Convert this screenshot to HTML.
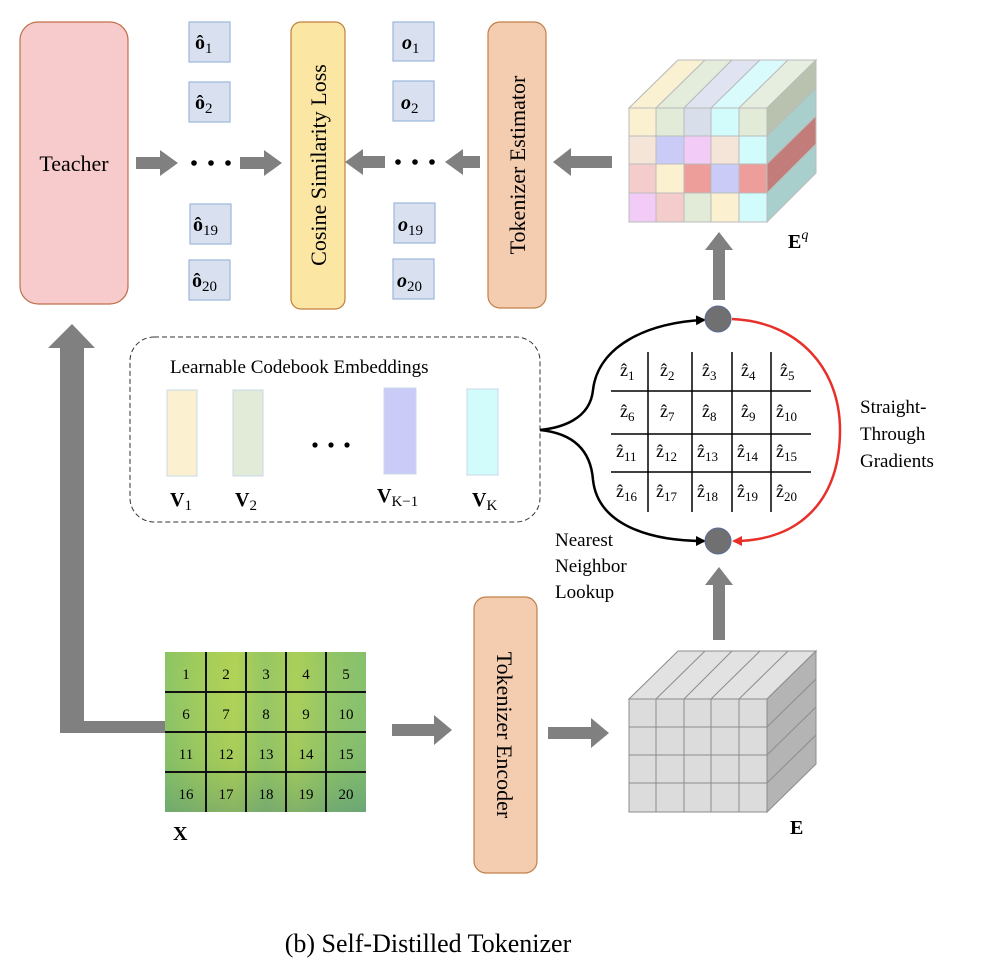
<!DOCTYPE html>
<html><head><meta charset="utf-8"><style>
html,body{margin:0;padding:0;background:#fff;}
svg{display:block;font-family:"Liberation Serif",serif;}
</style></head><body>
<svg width="982" height="980" viewBox="0 0 982 980" xmlns="http://www.w3.org/2000/svg">
<defs>
<marker id="ab" markerWidth="10" markerHeight="10" refX="8" refY="5" orient="auto" markerUnits="userSpaceOnUse"><path d="M0,0 L10,5 L0,10 z" fill="#000"/></marker>
<marker id="ar" markerWidth="10" markerHeight="10" refX="8" refY="5" orient="auto" markerUnits="userSpaceOnUse"><path d="M0,0 L10,5 L0,10 z" fill="#e8302a"/></marker>
<linearGradient id="spec" x1="0" y1="0" x2="1" y2="0">
<stop offset="0" stop-color="#8cc464"/><stop offset="0.2" stop-color="#a4cd58"/><stop offset="0.35" stop-color="#b0d254"/><stop offset="0.5" stop-color="#96c662"/><stop offset="0.65" stop-color="#aacf58"/><stop offset="0.85" stop-color="#90c466"/><stop offset="1" stop-color="#86c06c"/>
</linearGradient>
<linearGradient id="specv" x1="0" y1="0" x2="0" y2="1">
<stop offset="0" stop-color="#fff" stop-opacity="0"/><stop offset="0.7" stop-color="#2a7a8a" stop-opacity="0.08"/><stop offset="1" stop-color="#2a6a8a" stop-opacity="0.3"/>
</linearGradient>
</defs>

<!-- Teacher -->
<rect x="20" y="22" width="108" height="282" rx="18" fill="#f7cbcb" stroke="#c0714a" stroke-width="1.2"/>
<text x="74" y="171" font-size="22" text-anchor="middle">Teacher</text>

<!-- o-hat boxes -->
<g fill="#d9e1f0" stroke="#9bb8dc" stroke-width="1.2">
<rect x="189" y="22" width="41" height="40"/><rect x="189" y="82" width="41" height="40"/>
<rect x="190" y="204" width="41" height="40"/><rect x="189" y="260" width="41" height="40"/>
</g>
<g font-size="20" font-weight="bold">
<text x="195" y="49">ô<tspan font-weight="normal" font-size="15" dy="4">1</tspan></text>
<text x="195" y="109">ô<tspan font-weight="normal" font-size="15" dy="4">2</tspan></text>
<text x="193" y="231">ô<tspan font-weight="normal" font-size="15" dy="4">19</tspan></text>
<text x="192" y="287">ô<tspan font-weight="normal" font-size="15" dy="4">20</tspan></text>
</g>
<g fill="#000"><circle cx="194" cy="163" r="2.8"/><circle cx="211" cy="163" r="2.8"/><circle cx="228" cy="163" r="2.8"/></g>

<!-- Cosine box -->
<rect x="291" y="22" width="54" height="287" rx="10" fill="#fce6a4" stroke="#c0803a" stroke-width="1.2"/>
<text transform="translate(326,165) rotate(-90)" font-size="22" text-anchor="middle">Cosine Similarity Loss</text>

<!-- o boxes -->
<g fill="#d9e1f0" stroke="#9bb8dc" stroke-width="1.2">
<rect x="393" y="22" width="41" height="39"/><rect x="393" y="81" width="41" height="40"/>
<rect x="394" y="203" width="41" height="40"/><rect x="393" y="259" width="41" height="40"/>
</g>
<g font-size="20" font-weight="bold" font-style="italic">
<text x="402" y="49">o<tspan font-weight="normal" font-style="normal" font-size="15" dy="4">1</tspan></text>
<text x="401" y="109">o<tspan font-weight="normal" font-style="normal" font-size="15" dy="4">2</tspan></text>
<text x="398" y="231">o<tspan font-weight="normal" font-style="normal" font-size="15" dy="4">19</tspan></text>
<text x="397" y="287">o<tspan font-weight="normal" font-style="normal" font-size="15" dy="4">20</tspan></text>
</g>
<g fill="#000"><circle cx="398" cy="162" r="2.8"/><circle cx="415" cy="162" r="2.8"/><circle cx="432" cy="162" r="2.8"/></g>

<!-- Tokenizer Estimator -->
<rect x="488" y="22" width="58" height="286" rx="12" fill="#f4cdb0" stroke="#c0804a" stroke-width="1.2"/>
<text transform="translate(525,165) rotate(-90)" font-size="22" text-anchor="middle">Tokenizer Estimator</text>

<!-- gray arrows -->
<g fill="#808080">
<path d="M136,157 h24 v-7 l18,13 l-18,13 v-7 h-24 z"/>
<path d="M240,157 h24 v-7 l18,13 l-18,13 v-7 h-24 z"/>
<path d="M385,156 h-22 v-7 l-18,13 l18,13 v-7 h22 z"/>
<path d="M480,156 h-17 v-7 l-18,13 l18,13 v-7 h17 z"/>
<path d="M612,156 h-41 v-8 l-18,14 l18,14 v-8 h41 z"/>
<path d="M713,300 v-50 h-8 l14,-18 l14,18 h-8 v50 z"/>
<path d="M713,640 v-55 h-8 l14,-18 l14,18 h-8 v55 z"/>
<path d="M135,721 H60 V348 H48 L72,324 L95,348 H84 V721 z"/>
<rect x="60" y="721" width="105" height="12"/>
<path d="M392,724 h42 v-9 l18,15 l-18,15 v-9 h-42 z"/>
<path d="M548,727 h43 v-9 l18,15 l-18,15 v-9 h-43 z"/>
</g>

<!-- top cube -->
<g stroke="#bbbbbb" stroke-width="1">
<polygon points="629,108 678,60 816,60 767,108" fill="#e8ecdc"/>
<polygon points="629,108 678,60 705,60 656,108" fill="#faf1d2"/>
<polygon points="656,108 705,60 732,60 684,108" fill="#e4ecdc"/>
<polygon points="684,108 732,60 760,60 711,108" fill="#e0e4f2"/>
<polygon points="711,108 760,60 788,60 739,108" fill="#dafbfb"/>
<polygon points="739,108 788,60 816,60 767,108" fill="#e6eedf"/>
<polygon points="767,108 816,60 816,88 767,136" fill="#b8c2ae"/>
<polygon points="767,136 816,88 816,116 767,164" fill="#a9cfcc"/>
<polygon points="767,164 816,116 816,144 767,193" fill="#c27c7a"/>
<polygon points="767,193 816,144 816,173 767,222" fill="#a9cfcc"/>
<rect x="629" y="108" width="27" height="28" fill="#fbf1d0"/><rect x="656" y="108" width="28" height="28" fill="#e2ebd8"/><rect x="684" y="108" width="27" height="28" fill="#d9deeb"/><rect x="711" y="108" width="28" height="28" fill="#d2fbfb"/><rect x="739" y="108" width="28" height="28" fill="#e2ebd8"/>
<rect x="629" y="136" width="27" height="28" fill="#f5e4d8"/><rect x="656" y="136" width="28" height="28" fill="#caccf7"/><rect x="684" y="136" width="27" height="28" fill="#f2ccf7"/><rect x="711" y="136" width="28" height="28" fill="#f5e4d8"/><rect x="739" y="136" width="28" height="28" fill="#d2fbfb"/>
<rect x="629" y="164" width="27" height="29" fill="#f5cccc"/><rect x="656" y="164" width="28" height="29" fill="#fbf1d0"/><rect x="684" y="164" width="27" height="29" fill="#ee9e9a"/><rect x="711" y="164" width="28" height="29" fill="#caccf7"/><rect x="739" y="164" width="28" height="29" fill="#ee9e9a"/>
<rect x="629" y="193" width="27" height="29" fill="#f2ccf7"/><rect x="656" y="193" width="28" height="29" fill="#f5cccc"/><rect x="684" y="193" width="27" height="29" fill="#e2ebd8"/><rect x="711" y="193" width="28" height="29" fill="#fbf1d0"/><rect x="739" y="193" width="28" height="29" fill="#d2fbfb"/>
</g>
<text x="788" y="248" font-size="20" font-weight="bold">E<tspan font-size="14" font-style="italic" font-weight="normal" dy="-9">q</tspan></text>

<!-- bottom cube -->
<g stroke="#8c8c8c" stroke-width="1">
<polygon points="629,699 678,651 816,651 767,699" fill="#e2e2e2"/>
<line x1="656" y1="699" x2="705" y2="651"/><line x1="684" y1="699" x2="732" y2="651"/><line x1="711" y1="699" x2="760" y2="651"/><line x1="739" y1="699" x2="788" y2="651"/>
<polygon points="767,699 816,651 816,764 767,812" fill="#b4b4b4"/>
<line x1="767" y1="727" x2="816" y2="679"/><line x1="767" y1="755" x2="816" y2="707"/><line x1="767" y1="783" x2="816" y2="735"/>
<rect x="629" y="699" width="138" height="113" fill="#dcdcdc"/>
<line x1="656" y1="699" x2="656" y2="812"/><line x1="684" y1="699" x2="684" y2="812"/><line x1="711" y1="699" x2="711" y2="812"/><line x1="739" y1="699" x2="739" y2="812"/>
<line x1="629" y1="727" x2="767" y2="727"/><line x1="629" y1="755" x2="767" y2="755"/><line x1="629" y1="783" x2="767" y2="783"/>
</g>
<text x="790" y="834" font-size="20" font-weight="bold">E</text>

<!-- spectrogram -->
<rect x="165" y="652" width="201" height="160" fill="url(#spec)"/>
<rect x="165" y="652" width="201" height="160" fill="url(#specv)"/>
<g stroke="#111" stroke-width="2">
<line x1="206" y1="652" x2="206" y2="812"/><line x1="246" y1="652" x2="246" y2="812"/><line x1="286" y1="652" x2="286" y2="812"/><line x1="326" y1="652" x2="326" y2="812"/>
<line x1="165" y1="692" x2="366" y2="692"/><line x1="165" y1="732" x2="366" y2="732"/><line x1="165" y1="772" x2="366" y2="772"/>
</g>
<g font-size="15" text-anchor="middle">
<text x="186" y="679">1</text><text x="226" y="679">2</text><text x="266" y="679">3</text><text x="306" y="679">4</text><text x="346" y="679">5</text>
<text x="186" y="719">6</text><text x="226" y="719">7</text><text x="266" y="719">8</text><text x="306" y="719">9</text><text x="346" y="719">10</text>
<text x="186" y="759">11</text><text x="226" y="759">12</text><text x="266" y="759">13</text><text x="306" y="759">14</text><text x="346" y="759">15</text>
<text x="186" y="799">16</text><text x="226" y="799">17</text><text x="266" y="799">18</text><text x="306" y="799">19</text><text x="346" y="799">20</text>
</g>
<text x="173" y="840" font-size="20" font-weight="bold">X</text>

<!-- Tokenizer Encoder -->
<rect x="474" y="597" width="63" height="276" rx="12" fill="#f4cdb0" stroke="#c0804a" stroke-width="1.2"/>
<text transform="translate(497,735) rotate(90)" font-size="22" text-anchor="middle">Tokenizer Encoder</text>

<!-- codebook -->
<rect x="130" y="337" width="410" height="185" rx="24" fill="none" stroke="#333" stroke-width="1" stroke-dasharray="5,3"/>
<text x="170" y="373" font-size="19">Learnable Codebook Embeddings</text>
<rect x="167" y="390" width="30" height="86" fill="#fbf1d0" stroke="#c8d8ea"/>
<rect x="233" y="390" width="30" height="86" fill="#e2ebd8" stroke="#c8d8ea"/>
<rect x="384" y="388" width="32" height="86" fill="#caccf7" stroke="#c8d8ea"/>
<rect x="467" y="389" width="31" height="86" fill="#d2fbfb" stroke="#c8d8ea"/>
<g fill="#000"><circle cx="315" cy="445" r="2.6"/><circle cx="331" cy="445" r="2.6"/><circle cx="347" cy="445" r="2.6"/></g>
<g font-size="20" font-weight="bold">
<text x="170" y="506">V<tspan font-weight="normal" font-size="15" dy="4">1</tspan></text>
<text x="235" y="506">V<tspan font-weight="normal" font-size="15" dy="4">2</tspan></text>
<text x="377" y="502">V<tspan font-weight="normal" font-size="15" dy="4">K−1</tspan></text>
<text x="472" y="506">V<tspan font-weight="normal" font-size="15" dy="4">K</tspan></text>
</g>

<!-- curves -->
<path d="M540,430 C560,428 590,420 593,390 C598,345 650,322 704,320" fill="none" stroke="#000" stroke-width="2.5" marker-end="url(#ab)"/>
<path d="M540,430 C560,432 590,440 593,480 C598,525 650,541 704,541" fill="none" stroke="#000" stroke-width="2.5" marker-end="url(#ab)"/>
<path d="M732,319 C800,322 840,370 840,430 C840,500 800,541 734,541" fill="none" stroke="#e8302a" stroke-width="2.5" marker-end="url(#ar)"/>
<circle cx="718" cy="319" r="13" fill="#707070" stroke="#5a6a9a" stroke-width="1"/>
<circle cx="718" cy="541" r="13" fill="#707070" stroke="#5a6a9a" stroke-width="1"/>

<!-- z grid -->
<g stroke="#000" stroke-width="1.5">
<line x1="648" y1="352" x2="648" y2="512"/><line x1="692" y1="352" x2="692" y2="512"/><line x1="732" y1="352" x2="732" y2="512"/><line x1="771" y1="352" x2="771" y2="512"/>
<line x1="611" y1="391" x2="811" y2="391"/><line x1="611" y1="434" x2="811" y2="434"/><line x1="611" y1="472" x2="811" y2="472"/>
</g>
<g font-size="18">
<text x="620" y="376">ẑ<tspan font-size="13" dy="4">1</tspan></text><text x="660" y="376">ẑ<tspan font-size="13" dy="4">2</tspan></text><text x="702" y="376">ẑ<tspan font-size="13" dy="4">3</tspan></text><text x="741" y="376">ẑ<tspan font-size="13" dy="4">4</tspan></text><text x="780" y="376">ẑ<tspan font-size="13" dy="4">5</tspan></text>
<text x="620" y="417">ẑ<tspan font-size="13" dy="4">6</tspan></text><text x="660" y="417">ẑ<tspan font-size="13" dy="4">7</tspan></text><text x="702" y="417">ẑ<tspan font-size="13" dy="4">8</tspan></text><text x="741" y="417">ẑ<tspan font-size="13" dy="4">9</tspan></text><text x="776" y="417">ẑ<tspan font-size="13" dy="4">10</tspan></text>
<text x="616" y="457">ẑ<tspan font-size="13" dy="4">11</tspan></text><text x="656" y="457">ẑ<tspan font-size="13" dy="4">12</tspan></text><text x="697" y="457">ẑ<tspan font-size="13" dy="4">13</tspan></text><text x="737" y="457">ẑ<tspan font-size="13" dy="4">14</tspan></text><text x="776" y="457">ẑ<tspan font-size="13" dy="4">15</tspan></text>
<text x="616" y="497">ẑ<tspan font-size="13" dy="4">16</tspan></text><text x="656" y="497">ẑ<tspan font-size="13" dy="4">17</tspan></text><text x="697" y="497">ẑ<tspan font-size="13" dy="4">18</tspan></text><text x="737" y="497">ẑ<tspan font-size="13" dy="4">19</tspan></text><text x="776" y="497">ẑ<tspan font-size="13" dy="4">20</tspan></text>
</g>

<g font-size="19">
<text x="860" y="413">Straight-</text>
<text x="860" y="440">Through</text>
<text x="860" y="467">Gradients</text>
<text x="555" y="546">Nearest</text>
<text x="555" y="572">Neighbor</text>
<text x="555" y="598">Lookup</text>
</g>

<text x="428" y="952" font-size="26" text-anchor="middle">(b) Self-Distilled Tokenizer</text>
</svg>
</body></html>
